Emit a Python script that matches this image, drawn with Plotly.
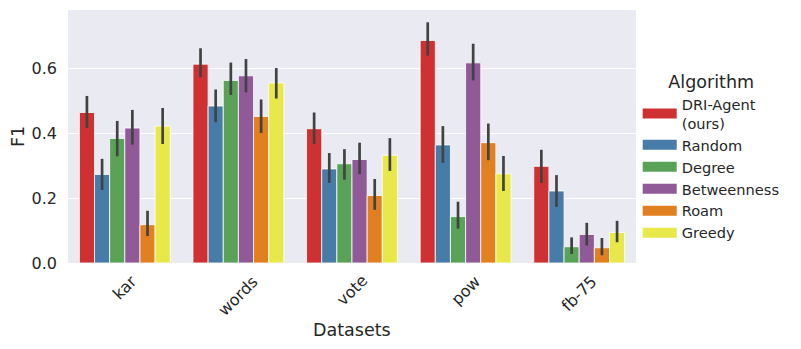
import plotly.graph_objects as go

datasets = ["kar", "words", "vote", "pow", "fb-75"]
algorithms = ["DRI-Agent<br>(ours)", "Random", "Degree", "Betweenness", "Roam", "Greedy"]

dri_agent = [0.464, 0.613, 0.414, 0.686, 0.298]
dri_agent_hi = [0.515, 0.662, 0.464, 0.742, 0.349]
dri_agent_lo = [0.416, 0.573, 0.367, 0.639, 0.247]

random_ = [0.273, 0.484, 0.290, 0.364, 0.222]
random_hi = [0.321, 0.535, 0.339, 0.422, 0.271]
random_lo = [0.225, 0.434, 0.247, 0.309, 0.173]

degree = [0.384, 0.563, 0.306, 0.143, 0.050]
degree_hi = [0.438, 0.618, 0.351, 0.189, 0.079]
degree_lo = [0.329, 0.518, 0.257, 0.106, 0.028]

betweenness = [0.416, 0.577, 0.319, 0.617, 0.088]
betweenness_hi = [0.472, 0.629, 0.371, 0.676, 0.124]
betweenness_lo = [0.365, 0.526, 0.274, 0.563, 0.054]

roam = [0.118, 0.452, 0.208, 0.371, 0.047]
roam_hi = [0.161, 0.504, 0.259, 0.430, 0.077]
roam_lo = [0.083, 0.401, 0.164, 0.317, 0.024]

greedy = [0.422, 0.555, 0.332, 0.275, 0.094]
greedy_hi = [0.478, 0.601, 0.385, 0.330, 0.130]
greedy_lo = [0.367, 0.507, 0.284, 0.222, 0.064]

y_ticks = [0.0, 0.2, 0.4, 0.6]
y_tick_labels = ["0.0", "0.2", "0.4", "0.6"]

colors = ["#cf3132", "#477ca8", "#59a257", "#905998", "#e08020", "#e8e84a"]

series = [
    (dri_agent, dri_agent_hi, dri_agent_lo),
    (random_, random_hi, random_lo),
    (degree, degree_hi, degree_lo),
    (betweenness, betweenness_hi, betweenness_lo),
    (roam, roam_hi, roam_lo),
    (greedy, greedy_hi, greedy_lo),
]

FONT = "DejaVu Sans"
TXT = "#262626"

fig = go.Figure()
for name, color, (vals, hi, lo) in zip(algorithms, colors, series):
    fig.add_trace(go.Bar(
        x=datasets, y=vals, name=name, showlegend=False,
        marker=dict(color=color, line=dict(color="white", width=0.8)),
        error_y=dict(type="data", symmetric=False,
                     array=[h - v for h, v in zip(hi, vals)],
                     arrayminus=[v - l for v, l in zip(vals, lo)],
                     color="#424242", thickness=2.7, width=0),
    ))
for name, color in zip(algorithms, colors):
    fig.add_trace(go.Scatter(
        x=[None], y=[None], mode="lines", name=name,
        line=dict(color=color, width=10), showlegend=True,
    ))

for d in datasets:
    fig.add_annotation(
        x=d, y=0, xref="x", yref="paper", text=d, showarrow=False,
        textangle=-45, xanchor="center", yanchor="top", yshift=-6,
        font=dict(family=FONT, size=16, color=TXT),
    )
fig.add_annotation(
    x=0.5, y=-0.265, xref="paper", yref="paper", text="Datasets",
    showarrow=False, xanchor="center", yanchor="middle",
    font=dict(family=FONT, size=17.5, color=TXT),
)

# page body has an 8px margin, so the figure is shrunk and shifted accordingly
fig.update_layout(
    width=793, height=341,
    margin=dict(l=60, r=165, t=2, b=86, autoexpand=False),
    paper_bgcolor="white", plot_bgcolor="#EAEAF2",
    barmode="group", bargap=0.2, bargroupgap=0,
    font=dict(family=FONT, color=TXT),
    legend=dict(
        x=1.003, xanchor="left", y=0.782, yanchor="top",
        itemwidth=34,
        title=dict(text="Algorithm", side="top center",
                   font=dict(family=FONT, size=17.5, color=TXT)),
        font=dict(family=FONT, size=14.6, color=TXT),
        bgcolor="rgba(0,0,0,0)", tracegroupgap=0,
    ),
    xaxis=dict(
        type="category", range=[-0.5, 4.5], showticklabels=False,
        showgrid=False, zeroline=False, showline=False, ticks="",
    ),
    yaxis=dict(
        range=[0, 0.78], tickvals=y_ticks, ticktext=y_tick_labels,
        showgrid=True, gridcolor="white", gridwidth=1,
        zeroline=False, showline=False, ticks="", automargin=False,
        ticklabelstandoff=10,
        tickfont=dict(family=FONT, size=16, color=TXT),
        title=dict(text="F1", standoff=8,
                   font=dict(family=FONT, size=17.5, color=TXT)),
    ),
)

fig.write_html("out.html")
